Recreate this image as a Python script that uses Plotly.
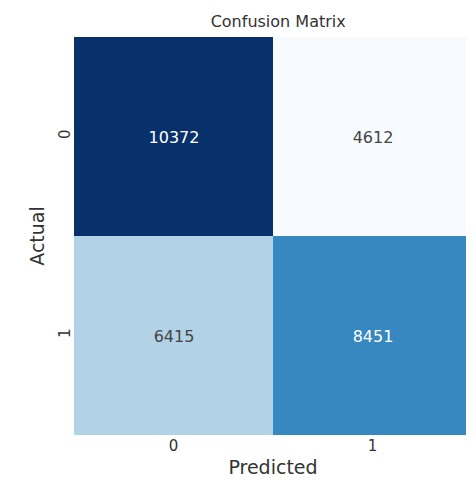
import plotly.graph_objects as go

labels = ["0", "1"]
counts = [[10372, 4612], [6415, 8451]]

fig = go.Figure(
    go.Heatmap(
        z=counts,
        x=labels,
        y=labels,
        colorscale="Blues",
        showscale=False,
        texttemplate="%{z:d}",
        textfont=dict(size=16),
    )
)

fig.update_layout(
    width=474,
    height=488,
    margin=dict(l=66, r=10, t=29, b=61, autoexpand=False),
    font=dict(family="DejaVu Sans", size=16, color="#333333"),
    title=dict(text="Confusion Matrix", x=0.57, xanchor="center", y=0.985, font=dict(size=16)),
    plot_bgcolor="white",
    paper_bgcolor="white",
)
fig.update_xaxes(title_text="Predicted", title_standoff=6, showgrid=False, ticks="",
                 tickfont=dict(size=15), automargin=False)
fig.update_yaxes(title_text="Actual", title_standoff=6, autorange="reversed", showgrid=False,
                 ticks="", tickangle=-90, tickfont=dict(size=15), automargin=False)

fig.write_html("out.html")
